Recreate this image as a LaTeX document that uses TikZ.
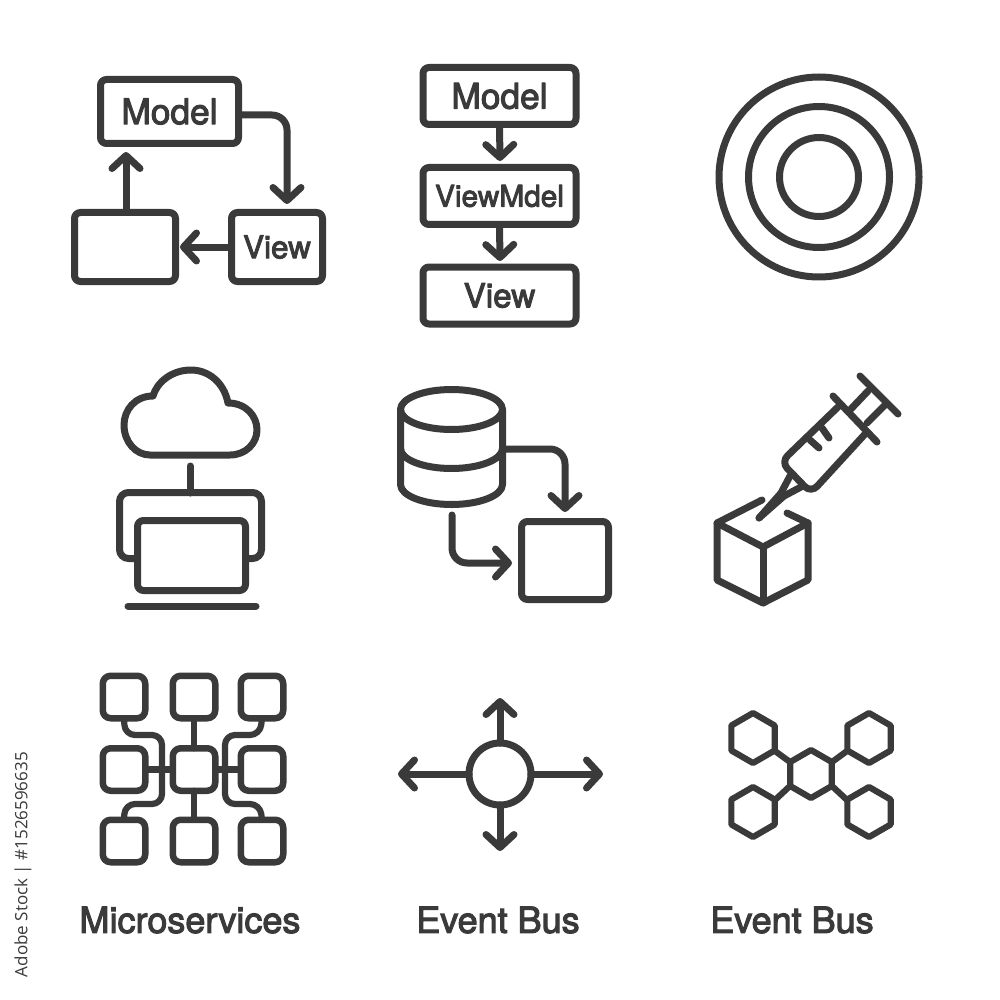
\documentclass[tikz,border=0pt]{standalone}
\usepackage{fontspec}
\setmainfont{TeX Gyre Heros}[FakeBold=3]
\newfontfamily\plainfam{Open Sans}
\usetikzlibrary{arrows.meta}
\definecolor{ink}{HTML}{3A3A3A}
\tikzset{
  icon/.style={draw=ink,line width=7pt,line cap=round,line join=round},
  box/.style={icon,rectangle,rounded corners=6pt,outer sep=0pt,inner sep=0pt,text=ink,font=\fontsize{35.3}{35.3}\selectfont,minimum width=#1},
  box/.default=100pt,
  wire/.style={icon,line width=6.2pt,rounded corners=10pt},
  tiparrow/.style={icon,rounded corners=15pt,-{Straight Barb[length=13pt,width=28pt,round]}},
  msbox/.style={icon,line width=6.5pt,rectangle,rounded corners=8pt,outer sep=0pt,inner sep=0pt,minimum width=42.5pt,minimum height=42.5pt},
  hexl/.style={icon,line width=6.2pt},
  ring/.style={icon,circle,outer sep=0pt,inner sep=0pt,minimum size=#1},
  caption/.style={text=ink,font=\fontsize{36}{36}\selectfont,inner sep=0pt},
}
\begin{document}
\begin{tikzpicture}[x=1pt,y=-1pt]
\useasboundingbox[fill=white] (0,0) rectangle (1000,1000);
% --- MVC
\node[box=138pt,minimum height=64pt] (m1) at (169.5,111.5) {Model};
\node[box=101pt,minimum height=69pt] (c1) at (125,247) {};
\node[box=91pt,minimum height=69pt,font=\fontsize{31.4}{31.4}\selectfont] (v1) at (277,247) {View};
\coordinate (m1out) at (m1.east |- 0,115);
\coordinate (v1in) at (287,204);
\coordinate (c1up) at (126,152);
\coordinate (c1right) at (180,247);
\draw[tiparrow] (m1out) -- (287,115) -- (v1in);
\draw[tiparrow] (c1.north -| c1up) -- (c1up);
\draw[tiparrow] (v1.west) -- (c1right);
% --- MVVM
\node[box=153pt,minimum height=57pt] (m2) at (499.5,96) {Model};
\node[box=153pt,minimum height=57pt,font=\fontsize{29.8}{29.8}\selectfont] (vm2) at (499.5,196) {ViewMdel};
\node[box=153pt,minimum height=57pt,font=\fontsize{33.2}{33.2}\selectfont] (v2) at (499.5,295.5) {View};
\coordinate (a2) at (500,161);
\coordinate (b2) at (500,261);
\draw[tiparrow] (m2.south) -- (a2);
\draw[tiparrow] (vm2.south) -- (b2);
% --- Rings
\node[ring=200pt] (r1) at (819,177) {};
\node[ring=141pt] (r2) at (819,177) {};
\node[ring=79pt] (r3) at (819,177) {};
% --- Cloud + device
\draw[icon] (150,455) -- (230,455)
  .. controls (246,455) and (257,443) .. (257,430)
  .. controls (257,416) and (246,403) .. (228,403)
  .. controls (224,382) and (208,370) .. (191,370)
  .. controls (172,370) and (157,382) .. (153,396)
  .. controls (135,396) and (124,410) .. (124,425)
  .. controls (124,442) and (136,455) .. (150,455) -- cycle;
\coordinate (stemtop) at (190,466);
\node[box=108pt,minimum height=70pt] (dev) at (191.5,555.5) {};
\coordinate (backtop) at (190,493);
\draw[icon] (stemtop) -- (backtop);
\draw[icon,rounded corners=9pt] (dev.west |- 0,558.5) -- (119.5,558.5) -- (119.5,492.5) -- (261.5,492.5) -- (261.5,558.5) -- (dev.east |- 0,558.5);
\coordinate (b1) at (128,606);
\coordinate (b2a) at (256,606);
\draw[icon] (b1) -- (b2a);
% --- Database
\draw[icon] (400.5,409.5) arc[start angle=180,end angle=-180,x radius=51,y radius=20];
\draw[icon] (400.5,448.5) arc[start angle=180,end angle=0,x radius=51,y radius=20];
\draw[icon] (400.5,409.5) -- (400.5,484.5) arc[start angle=180,end angle=0,x radius=51,y radius=20] -- (502.5,409.5);
\node[box=87pt,minimum height=78pt] (db) at (565,560.5) {};
\coordinate (dbr) at (503,449);
\coordinate (dbb) at (452,515);
\coordinate (ta) at (565,512);
\coordinate (tb) at (512,563);
\draw[tiparrow] (dbr) -- (565,449) -- (ta);
\draw[tiparrow] (dbb) -- (452,563) -- (tb);
% --- Syringe + cube
\draw[icon] (860,376) -- (898,414);
\draw[icon] (833,396) -- (877,442);
\draw[icon] (850,410) -- (868,391);
\draw[icon] (867,423) -- (885,405);
\draw[icon,rounded corners=9pt] (839,406) -- (781,462) -- (811,493) -- (866,433);
\draw[icon] (822,428) -- (829,438);
\draw[icon] (810,440) -- (819,448);
\draw[icon] (790,476) -- (781,493) -- (759,518);
\draw[icon] (801,487) -- (784,496) -- (759,518);
\draw[icon] (762,500) -- (717,523) -- (717,580) -- (763,603) -- (808,580) -- (808,523) -- (787,513);
\draw[icon] (717,523) -- (763,547) -- (808,523);
\draw[icon] (763,547) -- (763,603);
% --- Microservices
\foreach \n/\x/\y in {a/124/697,b/194/697,c/262/697,d/124/769.5,e/194/769.5,f/262/769.5,g/124/841,h/194/841,i/262/841}
  \node[msbox] (\n) at (\x,\y) {};
\draw[wire] (b) -- (e);
\draw[wire] (e) -- (h);
\draw[wire] (d) -- (e);
\draw[wire] (e) -- (f);
\draw[wire] (a.south) -- (125,735) -- (162,735) -- (162,804) -- (125,804) -- (g.north);
\draw[wire] (c.south) -- (260,735) -- (225,735) -- (225,804) -- (260,804) -- (i.north);
% --- Event bus (circle)
\node[ring=62pt] (bus) at (500,774) {};
\coordinate (up) at (500,698);
\coordinate (dn) at (500,851);
\coordinate (lf) at (398,774);
\coordinate (rt) at (603,774);
\draw[tiparrow] (bus.north) -- (up);
\draw[tiparrow] (bus.south) -- (dn);
\draw[tiparrow] (bus.west) -- (lf);
\draw[tiparrow] (bus.east) -- (rt);
% --- Hexagons
\foreach \n/\x/\y/\r in {ha/753/738/25,hb/869/738/25,hc/753/812/25,hd/869/812/25,he/811/774/24}{
  \coordinate (\n) at (\x,\y);
  \draw[hexl] (\x,\y-\r) -- (\x+0.866*\r,\y-0.5*\r) -- (\x+0.866*\r,\y+0.5*\r) -- (\x,\y+\r) -- (\x-0.866*\r,\y+0.5*\r) -- (\x-0.866*\r,\y-0.5*\r) -- cycle;
}
\draw[hexl] (775,751) -- (790,762);
\draw[hexl] (775,800) -- (790,786);
\draw[hexl] (847,751) -- (832,762);
\draw[hexl] (847,800) -- (832,786);
% --- Captions
\node[caption] (t1) at (190,920) {Microservices};
\node[caption] (t2) at (498,920) {Event Bus};
\node[caption] (t3) at (792,920) {Event Bus};
\node[text=ink,font=\plainfam\fontsize{17}{17}\selectfont,rotate=90,anchor=east,inner sep=0pt] (credit) at (23,752) {Adobe Stock | \#1526596635};
\end{tikzpicture}
\end{document}
